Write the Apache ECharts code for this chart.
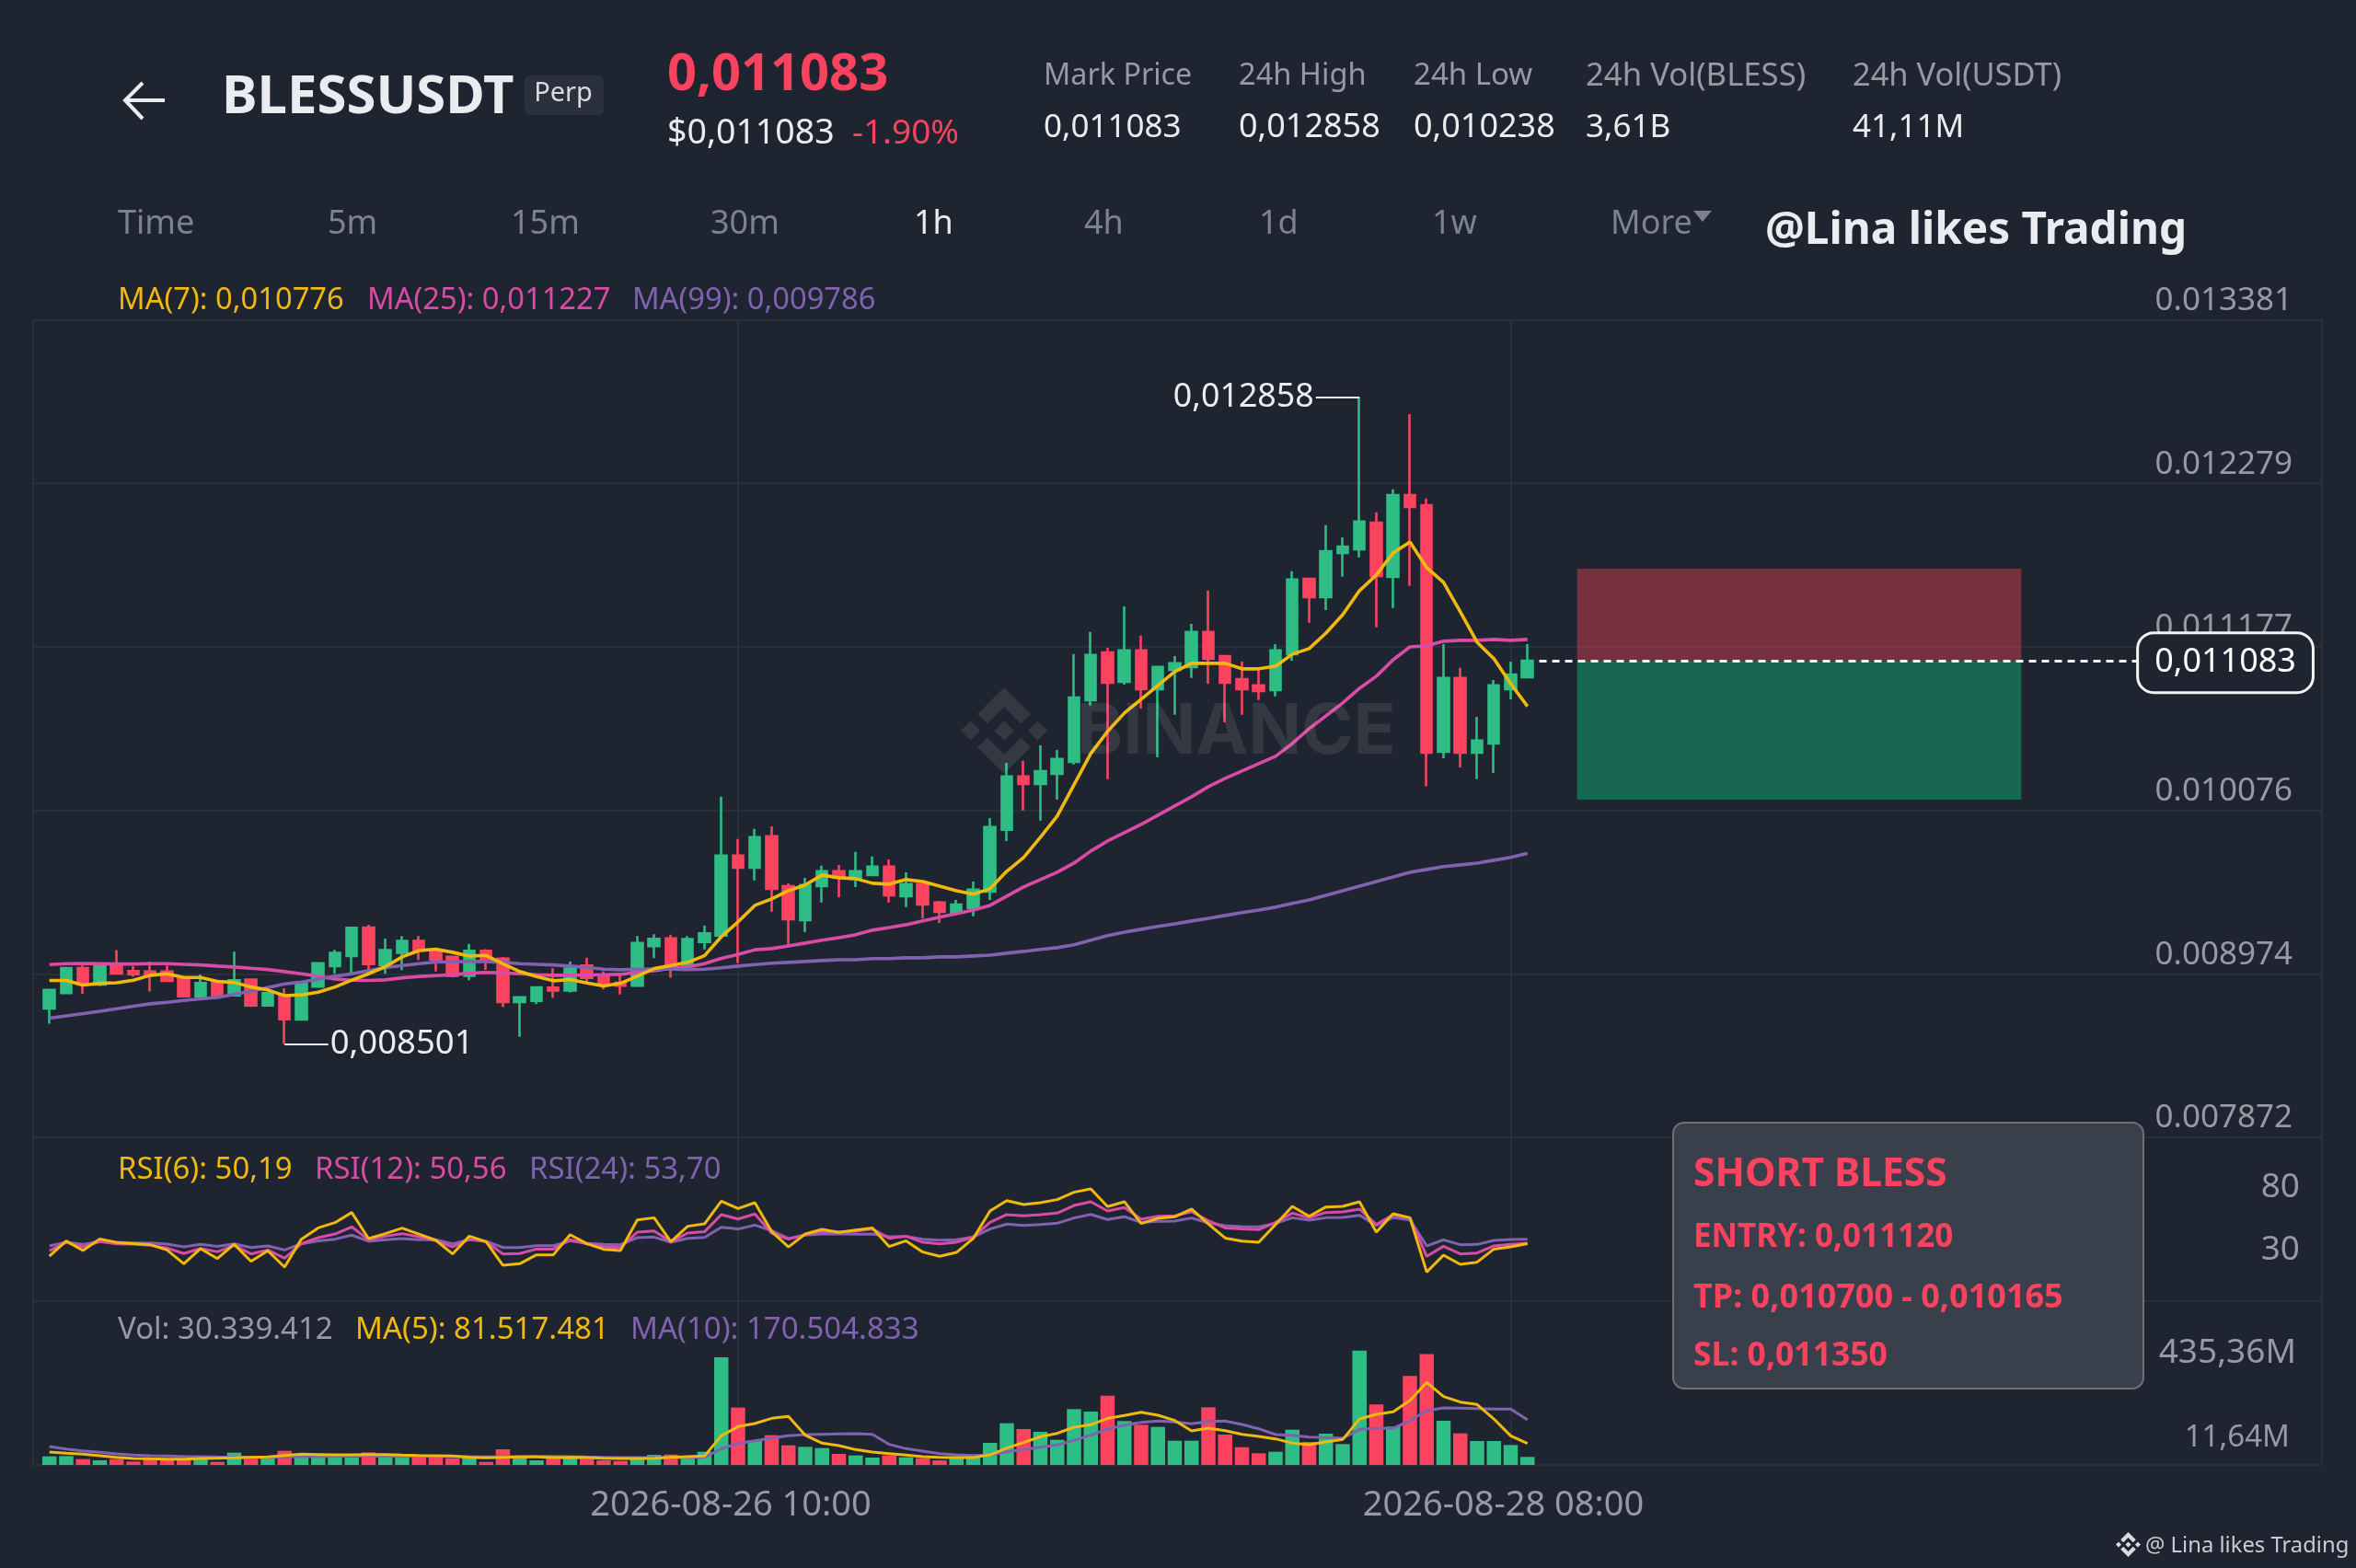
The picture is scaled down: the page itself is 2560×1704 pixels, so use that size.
<!DOCTYPE html>
<html><head><meta charset="utf-8">
<style>html,body{margin:0;padding:0;background:#1f2530}#c{width:2560px;height:1704px}</style>
<script src="https://cdn.jsdelivr.net/npm/echarts@6/dist/echarts.min.js"></script>
</head><body><div id="c"></div>
<script>
// Prices are listed in millionths of USDT (8741 = 0.008741)
const opens=[8741,8844,9012,8902,9030,8993,8989,8989,8943,8823,8912,8828,8935,8761,8830,8666,8887,9026,9094,9286,9034,9115,9195,9129,9088,8960,9129,9076,8784,8792,8881,8861,9030,8968,8914,8894,9160,9212,9032,9189,9231,9770,9689,9900,9565,9336,9565,9665,9615,9640,9696,9497,9578,9454,9386,9417,9528,9944,10303,10254,10322,10402,10818,11140,10942,11153,10892,11022,11041,11277,11115,10960,10917,10886,11128,11636,11512,11810,11835,12014,11649,12200,12132,10471,10967,10464,10526,10892,10973];
const closes=[8865,9012,8902,9030,8976,8972,8964,8927,8823,8912,8825,8931,8761,8844,8668,8906,9045,9115,9284,9040,9133,9195,9129,9071,8960,9129,9067,8784,8815,8883,8861,9009,8947,8902,8894,9181,9210,9026,9208,9247,9770,9689,9894,9547,9342,9572,9665,9621,9665,9696,9503,9578,9441,9392,9441,9541,9962,10303,10254,10340,10421,10836,11122,10936,11153,10892,11041,11066,11277,11097,10936,10892,10880,11153,11630,11512,11822,11853,12021,11655,12200,12120,10464,10967,10464,10545,10917,10991,11083];
const highs=[8871,9012,9030,9030,9133,9026,9057,9030,8947,8970,8918,9123,8937,8850,8877,8912,9045,9135,9284,9305,9212,9228,9228,9129,9092,9175,9140,9088,8815,8890,9011,9057,9082,8991,8974,9228,9241,9237,9228,9299,10167,9882,9950,9968,9584,9621,9702,9708,9795,9764,9745,9658,9584,9466,9472,9596,10024,10396,10409,10514,10483,11128,11277,11171,11450,11252,11047,11115,11332,11556,11115,11078,11029,11196,11686,11636,11996,11915,12858,12083,12238,12746,12176,11196,11035,10706,10954,11078,11196];
const lows=[8637,8840,8840,8890,8968,8954,8854,8918,8819,8817,8823,8828,8751,8761,8501,8662,8883,8974,8974,9005,8974,8999,9067,8989,8949,8931,9001,8749,8550,8770,8811,8848,8918,8869,8834,8894,9080,8947,9026,9138,9224,9045,9603,9392,9162,9255,9454,9491,9559,9640,9454,9423,9348,9317,9379,9361,9472,9869,10074,10006,10148,10384,10781,10285,10923,10762,10433,10719,10967,10929,10669,10719,10818,10843,11084,11339,11425,11649,11779,11308,11438,11587,10238,10427,10365,10285,10328,10824,10973];
const ma7=[8929,8929,8898,8910,8914,8931,8964,8974,8949,8949,8923,8916,8885,8865,8827,8832,8850,8885,8931,8974,9022,9088,9131,9140,9119,9094,9098,9042,8989,8956,8927,8935,8912,8892,8910,8958,9009,9030,9051,9096,9224,9324,9435,9479,9534,9572,9640,9621,9615,9584,9578,9609,9596,9565,9534,9510,9547,9665,9758,9894,10037,10247,10458,10607,10731,10824,10917,11010,11066,11066,11066,11029,11029,11047,11128,11165,11270,11394,11556,11661,11810,11884,11711,11611,11413,11208,11097,10929,10776];
const ma25=[9036,9042,9044,9042,9040,9040,9042,9042,9038,9034,9026,9020,9011,9003,8989,8974,8958,8939,8931,8929,8933,8947,8956,8962,8968,8978,8983,8980,8974,8968,8964,8964,8966,8968,8970,8985,8995,9011,9020,9042,9078,9104,9136,9144,9162,9181,9200,9218,9237,9268,9286,9305,9330,9355,9379,9404,9435,9497,9559,9609,9658,9720,9801,9869,9925,9981,10043,10105,10167,10235,10291,10340,10390,10440,10526,10626,10712,10799,10898,10979,11090,11177,11184,11215,11221,11221,11227,11221,11227];
const ma99=[8675,8691,8706,8722,8739,8755,8772,8782,8794,8805,8815,8836,8856,8881,8906,8918,8939,8958,8974,8995,9016,9030,9042,9053,9055,9057,9057,9051,9042,9038,9034,9026,9018,9005,9001,9005,9007,9005,9003,9005,9014,9026,9036,9045,9051,9057,9063,9069,9069,9076,9076,9082,9082,9088,9088,9094,9100,9113,9125,9138,9150,9169,9200,9231,9255,9274,9293,9311,9330,9348,9367,9386,9404,9423,9448,9472,9503,9534,9565,9596,9627,9658,9677,9696,9708,9720,9739,9758,9786];
const rsi6=[40.2,52.2,44.6,53.9,51.0,50.2,49.3,45.1,34.1,46.1,38.2,49.7,36.0,44.4,31.4,53.7,62.7,66.9,75.0,54.2,58.1,62.5,57.8,52.9,41.9,56.1,51.7,32.8,34.1,41.2,41.2,57.3,50.0,45.6,44.6,69.1,70.8,51.7,64.0,65.9,84.1,78.2,82.8,59.8,47.5,57.8,61.5,59.1,61.0,62.7,47.8,52.4,43.4,40.0,43.1,54.2,76.2,84.5,81.4,82.8,85.3,91.2,93.9,79.7,83.6,66.2,70.3,71.6,77.7,65.9,54.6,52.2,51.2,65.4,79.9,72.0,79.4,79.9,83.6,59.3,74.0,70.8,27.4,40.9,33.6,35.3,45.8,47.5,50.19];
const rsi12=[44.4,51.2,47.5,51.7,50.0,49.7,48.8,46.6,42.2,46.3,43.6,48.8,41.9,45.1,38.5,50.0,54.9,57.8,63.5,53.2,56.1,58.1,55.6,52.4,47.5,53.7,51.7,41.9,42.2,45.8,45.8,53.2,50.0,47.5,47.0,59.3,60.3,51.7,58.6,59.6,73.3,69.8,73.8,58.6,53.7,57.3,59.8,59.3,60.0,61.8,54.4,56.1,51.2,50.0,51.2,55.4,67.1,73.3,72.3,73.3,74.5,80.6,83.6,76.2,78.9,69.6,72.0,72.3,75.7,68.4,62.7,61.8,61.3,67.1,74.5,70.8,75.0,75.5,77.7,65.4,73.3,70.8,40.0,48.0,41.9,42.6,48.3,49.5,50.56];
const rsi24=[48.3,51.2,49.5,52.0,51.2,50.7,50.7,49.7,47.5,49.5,48.0,50.0,47.0,48.3,45.1,50.0,52.4,53.7,56.9,52.0,53.2,54.2,53.2,53.2,50.0,53.2,52.0,47.0,47.0,48.5,48.5,52.4,50.5,49.5,49.3,54.9,55.4,51.2,54.4,55.1,63.2,61.8,64.9,60.5,54.2,56.9,57.8,58.1,57.6,57.8,55.6,55.9,53.7,52.9,53.2,55.4,61.8,65.7,64.7,65.4,66.4,70.6,73.5,69.4,71.6,67.1,67.9,68.1,70.6,66.7,64.5,63.7,63.5,66.4,70.8,68.9,70.8,71.1,72.8,64.7,71.1,69.1,48.3,53.2,49.3,49.5,52.7,53.4,53.70];
// Volumes in millions
const volume=[32.5,33.7,22.1,17.4,22.1,12.8,22.1,23.2,23.2,22.1,11.6,46.5,23.2,24.4,53.5,29.1,27.9,27.9,27.9,47.6,33.7,33.7,29.1,32.5,25.6,26.7,11.6,59.3,29.1,17.4,25.6,26.7,23.2,17.4,15.1,23.2,38.3,39.5,25.6,50.0,407.9,217.3,93.0,112.7,74.4,68.6,63.9,41.8,36.0,27.9,36.0,29.1,25.6,17.4,24.4,29.1,83.7,158.0,136.0,125.5,95.3,211.5,202.2,262.6,166.2,152.2,144.1,91.8,91.8,218.5,115.0,67.4,44.2,50.0,133.6,87.2,118.5,79.0,433.4,228.9,145.3,337.0,420.6,167.3,119.7,90.6,90.6,75.5,30.34];
const volMa5=[48.8,44.2,40.7,34.9,29.1,24.4,23.2,22.1,22.1,24.4,25.6,26.7,29.1,30.2,36.0,40.7,39.5,38.3,38.3,39.5,39.5,37.2,36.0,34.9,33.7,29.1,26.7,29.1,30.2,30.2,27.9,29.1,27.9,25.6,24.4,24.4,25.6,29.1,31.4,33.7,110.4,145.3,156.9,176.6,183.6,112.7,82.5,73.2,58.1,48.8,43.0,37.2,31.4,29.1,27.9,27.9,38.3,63.9,84.8,106.9,119.7,142.9,152.2,176.6,187.1,199.9,188.2,168.5,129.0,139.4,130.1,116.2,108.1,98.8,82.5,76.7,87.2,96.4,174.3,191.7,201.0,244.0,312.6,259.1,238.2,228.9,174.3,110.4,81.52];
const volMa10=[69.7,60.4,53.5,47.6,41.8,37.2,34.9,33.7,32.5,31.4,30.2,29.1,29.1,29.1,30.2,31.4,31.4,32.5,33.7,33.7,32.5,32.5,32.5,32.5,32.5,31.4,30.2,31.4,31.4,32.5,32.5,31.4,30.2,29.1,27.9,27.9,27.9,27.9,27.9,29.1,61.6,81.3,91.8,102.3,110.4,115.0,116.2,117.4,118.5,116.2,77.9,61.6,52.3,43.0,38.3,36.0,37.2,50.0,58.1,67.4,75.5,93.0,112.7,136.0,151.1,161.5,166.2,162.7,155.7,165.0,166.2,153.4,137.1,115.0,112.7,105.7,103.4,101.1,134.8,138.3,138.3,168.5,205.7,216.1,215.0,213.8,211.5,211.5,170.50];
const priceTicks=[0.013381,0.012279,0.011177,0.010076,0.008974,0.007872];
const rsiTicks=[80,30];
const volTicks=[435.36,11.64];
const volTickLabels=['435,36M','11,64M'];
const timeTickIndex=[41,87];
const timeTickLabels=['2026-08-26 10:00','2026-08-28 08:00'];
const lastPrice=0.011083, slTop=0.011704, tpBottom=0.010148, highPrice=0.012858, lowPrice=0.008501;

const BG='#1f2530',GREEN='#2ebd85',RED='#fb4360',YEL='#f0b90b',PINK='#d94ba5',PUR='#8162b0',GRID='#2a303a',GREY='#959aa5',WHITE='#eaecef',DIM='#7d838e';
const FONT='"Noto Sans"';
const xMin=-0.97,xMax=135.3;
const up=i=>closes[i]>=opens[i];
const pr=a=>a.map((v,i)=>[i,v/1e6]);
const pts=a=>a.map((v,i)=>[i,v]);
const line=(name,data,color,g,w)=>({name,type:'line',xAxisIndex:g,yAxisIndex:g,data,showSymbol:false,symbol:'none',silent:true,z:5,lineStyle:{color,width:w},itemStyle:{color}});

const xBase=g=>({type:'value',gridIndex:g,min:xMin,max:xMax,
  axisTick:{show:false,customValues:[xMin,...timeTickIndex,xMax]},
  axisLine:{show:true,onZero:false,lineStyle:{color:GRID,width:2}},
  splitLine:{show:true,lineStyle:{color:GRID,width:2}},
  axisLabel:{show:false}});
const xAxes=[xBase(0),xBase(1),xBase(2)];
xAxes[2].axisLabel={show:true,customValues:timeTickIndex,margin:25,padding:[0,16,0,0],color:GREY,fontFamily:FONT,fontSize:38,
  showMinLabel:true,showMaxLabel:true,formatter:v=>timeTickLabels[timeTickIndex.indexOf(Math.round(v))]||''};

const yAxes=[
 {type:'value',gridIndex:0,position:'right',min:0.007872,max:0.013381,
  axisTick:{show:false,customValues:priceTicks},axisLine:{show:false},
  splitLine:{show:true,lineStyle:{color:GRID,width:2}},
  axisLabel:{inside:true,margin:32,verticalAlign:'bottom',padding:[0,0,3,0],color:GREY,fontFamily:FONT,fontSize:35,customValues:priceTicks,formatter:v=>v.toFixed(6)}},
 {type:'value',gridIndex:1,position:'right',min:4.2,max:135,
  axisTick:{show:false,customValues:rsiTicks},axisLine:{show:false},splitLine:{show:false},
  axisLabel:{inside:true,margin:24,verticalAlign:'bottom',padding:[0,0,2,0],color:GREY,fontFamily:FONT,fontSize:37,customValues:rsiTicks,formatter:v=>String(v)}},
 {type:'value',gridIndex:2,position:'right',min:0,max:620.7,
  axisTick:{show:false,customValues:volTicks},axisLine:{show:false},splitLine:{show:false},
  axisLabel:{inside:true,margin:28,verticalAlign:'middle',color:GREY,fontFamily:FONT,fontSize:35,customValues:volTicks,
   formatter:v=>{const i=volTicks.findIndex(t=>Math.abs(t-v)<1e-6);return i===0?'{a|'+volTickLabels[0]+'}':'{b|'+volTickLabels[1]+'}';},
   rich:{a:{color:GREY,fontFamily:FONT,fontSize:37,padding:[6,0,0,0]},b:{color:GREY,fontFamily:FONT,fontSize:33,padding:[0,7,52,0]}}}}
];

const txt=(x,y,text,fill,size,weight,align)=>({type:'text',z:120,silent:true,style:{x,y,text,fill,fontFamily:FONT,fontSize:size,fontWeight:weight||'normal',align:align||'left',verticalAlign:'middle'}});
const LOGO=[
 [[38.73,53.2],[63.32,28.62],[87.92,53.22],[102.22,38.91],[63.32,0],[24.42,38.9]],
 [[0,63.31],[14.3,49],[28.61,63.31],[14.3,77.61]],
 [[38.73,73.41],[63.32,98],[87.92,73.4],[102.23,87.69],[63.33,126.6],[24.42,87.72]],
 [[98,63.31],[112.3,49],[126.61,63.3],[112.3,77.62]],
 [[77.83,63.3],[63.32,48.78],[48.81,63.28],[63.32,77.78]]
];
const logo=(x,y,size,fill,z)=>LOGO.map(p=>({type:'polygon',z,silent:true,shape:{points:p.map(q=>[x+q[0]*size/126.61,y+q[1]*size/126.61])},style:{fill}}));
const graphics=[
 // header
 {type:'polyline',z:120,silent:true,shape:{points:[[179,109],[136,109]]},style:{stroke:WHITE,lineWidth:4,fill:null}},
 {type:'polyline',z:120,silent:true,shape:{points:[[155,90],[136,109],[155,129]]},style:{stroke:WHITE,lineWidth:4,fill:null}},
 txt(241,106,'BLESSUSDT',WHITE,58,'bold'),
 {type:'rect',z:119,silent:true,shape:{x:570,y:82,width:86,height:43,r:6},style:{fill:'#2b313c'}},
 txt(612,102,'Perp','#d8dbe0',29,'normal','center'),
 txt(725,82,'0,011083',RED,56,'bold'),
 txt(725,145,'$0,011083',WHITE,37.5),
 txt(926,145,'-1.90%',RED,37),
 txt(1134,83,'Mark Price',GREY,32.3), txt(1134,139,'0,011083',WHITE,35),
 txt(1346,83,'24h High',GREY,32.6), txt(1346,139,'0,012858',WHITE,36),
 txt(1536,83,'24h Low',GREY,33), txt(1536,139,'0,010238',WHITE,36),
 txt(1723,83,'24h Vol(BLESS)',GREY,34.7), txt(1723,139,'3,61B',WHITE,35),
 txt(2013,83,'24h Vol(USDT)',GREY,34.4), txt(2013,139,'41,11M',WHITE,35),
 // timeframe tabs
 txt(128,244,'Time',DIM,36), txt(356,244,'5m',DIM,36), txt(555,244,'15m',DIM,36), txt(772,244,'30m',DIM,36),
 txt(993,244,'1h',WHITE,36), txt(1178,244,'4h',DIM,36), txt(1368,244,'1d',DIM,36), txt(1556,244,'1w',DIM,36), txt(1750,244,'More',DIM,36),
 {type:'polygon',z:120,silent:true,shape:{points:[[1840,229],[1860,229],[1850,241]]},style:{fill:DIM}},
 txt(1918,251,'@Lina likes Trading',WHITE,47.7,'bold'),
 // indicator legends
 txt(128,327,'MA(7): 0,010776',YEL,32.7), txt(399,327,'MA(25): 0,011227',PINK,32.7), txt(687,327,'MA(99): 0,009786',PUR,32.7),
 txt(128,1272,'RSI(6): 50,19',YEL,32.9), txt(342,1272,'RSI(12): 50,56',PINK,32.9), txt(575,1272,'RSI(24): 53,70',PUR,32.9),
 txt(128,1446,'Vol: 30.339.412',GREY,33), txt(386,1446,'MA(5): 81.517.481',YEL,33), txt(685,1446,'MA(10): 170.504.833',PUR,33),
 // watermark
 ...logo(1044,747,94,'rgba(255,255,255,0.09)',50),
 {type:'text',z:50,silent:true,style:{x:1170,y:796,text:'BINANCE',fill:'rgba(255,255,255,0.09)',fontFamily:'Inter',fontSize:76,fontWeight:'bold',verticalAlign:'middle'}},
 // trade box
 {type:'rect',z:110,silent:true,shape:{x:1818,y:1220,width:511,height:289,r:12},style:{fill:'#3a404b',stroke:'#6b7079',lineWidth:2}},
 txt(1840,1277,'SHORT BLESS',RED,42.5,'bold'),
 txt(1840,1345,'ENTRY: 0,011120',RED,35,'bold'),
 txt(1840,1411,'TP: 0,010700 - 0,010165',RED,36,'bold'),
 txt(1840,1474,'SL: 0,011350',RED,35.5,'bold'),
 // footer mark
 ...logo(2299,1665,27,'#d8dbe0',120),
 txt(2331,1680,'@ Lina likes Trading','#c8ccd2',23.8)
];

const annotation=(x0,y,x1,text,size)=>[{coord:[x0,y],symbol:'none'},{coord:[x1,y],symbol:'none',label:{show:true,formatter:text,position:'end',color:WHITE,fontFamily:FONT,fontSize:size,distance:2,padding:[5,0,0,0]}}];

const option={
 backgroundColor:BG,animation:false,
 graphic:{elements:graphics},
 grid:[
  {left:36,top:347.5,width:2487,height:888.5},
  {left:36,top:1236,width:2487,height:178},
  {left:36,top:1414,width:2487,height:178}
 ],
 xAxis:xAxes,yAxis:yAxes,
 series:[
  {name:'BLESSUSDT',type:'candlestick',xAxisIndex:0,yAxisIndex:0,barWidth:12,z:3,silent:true,
   encode:{x:0,y:[1,2,3,4]},
   data:opens.map((o,i)=>[i,o/1e6,closes[i]/1e6,lows[i]/1e6,highs[i]/1e6]),
   itemStyle:{color:GREEN,color0:RED,borderColor:GREEN,borderColor0:RED,borderWidth:2.6},
   markLine:{silent:true,symbol:'none',animation:false,lineStyle:{color:WHITE,width:2,type:'solid'},
    data:[annotation(78,highPrice,75.4,'0,012858',35.8),annotation(14,lowPrice,16.6,'0,008501',36.5)]}},
  {...line('MA(7)',pr(ma7),YEL,0,3.6),z:6},
  line('MA(25)',pr(ma25),PINK,0,3.6),
  line('MA(99)',pr(ma99),PUR,0,3.6),
  {name:'Position',type:'line',xAxisIndex:0,yAxisIndex:0,data:[],z:4,silent:true,
   markArea:{silent:true,animation:false,label:{show:false},data:[
    [{coord:[90.95,slTop],itemStyle:{color:'rgba(251,67,93,0.40)'}},{coord:[117.4,lastPrice]}],
    [{coord:[90.95,lastPrice],itemStyle:{color:'rgba(14,190,126,0.44)'}},{coord:[117.4,tpBottom]}]]},
   markLine:{silent:true,symbol:'none',animation:false,z:8,label:{show:false},lineStyle:{color:'#f2f3f5',width:3,type:[8,6]},
    data:[[{coord:[88.7,lastPrice]},{coord:[124.5,lastPrice]}]]},
   markPoint:{silent:true,animation:false,symbol:'rect',symbolSize:1,itemStyle:{color:'transparent'},z:20,
    data:[{coord:[129.55,lastPrice],label:{show:true,position:'inside',offset:[0,2],formatter:'0,011083',color:'#ffffff',fontFamily:FONT,fontSize:36,backgroundColor:BG,borderColor:'#f2f3f5',borderWidth:3,borderRadius:16,padding:[13,17,13,17]}}]}},
  line('RSI(24)',pts(rsi24),PUR,1,3),
  line('RSI(12)',pts(rsi12),PINK,1,3),
  {...line('RSI(6)',pts(rsi6),YEL,1,3),z:7},
  {name:'Vol',type:'bar',xAxisIndex:2,yAxisIndex:2,barWidth:15.5,silent:true,z:3,
   data:volume.map((v,i)=>({value:[i,v],itemStyle:{color:up(i)?GREEN:RED}}))},
  line('Vol MA(10)',pts(volMa10),PUR,2,3),
  {...line('Vol MA(5)',pts(volMa5),YEL,2,3),z:6}
 ]
};
echarts.init(document.getElementById('c'),null,{renderer:'canvas',width:2560,height:1704}).setOption(option);
</script></body></html>
